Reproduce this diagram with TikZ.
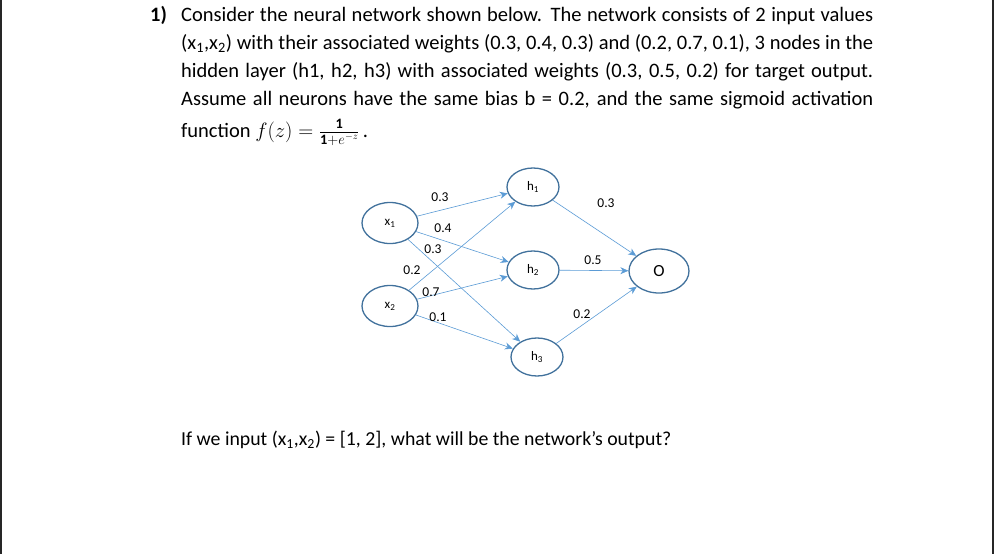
\documentclass[tikz,border=0pt]{standalone}
\usepackage{fontspec}
\setmainfont{Carlito}
\usetikzlibrary{shapes.geometric,arrows.meta}
\definecolor{edge}{HTML}{5B9BD5}
\definecolor{rim}{HTML}{41719C}
\begin{document}
\begin{tikzpicture}[x=1pt,y=-1pt,
  neuron/.style={draw=rim,line width=1.3pt,ellipse,inner sep=0pt},
  conn/.style={draw=edge,line width=0.6pt,-{Stealth[length=8pt,width=7pt]}},
  wlab/.style={font=\fontsize{13.5}{15}\selectfont,inner sep=0pt},
  txt/.style={font=\fontsize{20.5}{24}\selectfont,anchor=base west,inner sep=0pt}]
\useasboundingbox (0,0) rectangle (994,554);
\draw[line width=1.5pt,black!85] (1,0) -- (1,554);
\draw[line width=1.5pt,black!85] (993,0) -- (993,554);
\node[txt] (n1) at (150,21) {\textbf{1)}};
\node[txt] (l1) at (181,21) {\makebox[692pt][s]{Consider the neural network shown below. The network consists of 2 input values}};
\node[txt] (l2) at (181,49) {\makebox[692pt][s]{(x\textsubscript{1},x\textsubscript{2}) with their associated weights (0.3, 0.4, 0.3) and (0.2, 0.7, 0.1), 3 nodes in the}};
\node[txt] (l3) at (181,77) {\makebox[692pt][s]{hidden layer (h1, h2, h3) with associated weights (0.3, 0.5, 0.2) for target output.}};
\node[txt] (l4) at (181,105) {\makebox[692pt][s]{Assume all neurons have the same bias b = 0.2, and the same sigmoid activation}};
\node[txt] (l5) at (181,137) {function $f(z)=\frac{\mathbf{1}}{\mathbf{1+}e^{-z}}$\,.};
\node[neuron,minimum width=56pt,minimum height=41pt] (x1) at (390,223) {\fontsize{13}{14}\selectfont x\textsubscript{1}};
\node[neuron,minimum width=56pt,minimum height=41pt] (x2) at (390,306) {\fontsize{13}{14}\selectfont x\textsubscript{2}};
\node[neuron,minimum width=52pt,minimum height=38pt] (h1) at (533,187) {\fontsize{13}{14}\selectfont h\textsubscript{1}};
\node[neuron,minimum width=52pt,minimum height=38pt] (h2) at (533,270) {\fontsize{13}{14}\selectfont h\textsubscript{2}};
\node[neuron,minimum width=52pt,minimum height=38pt] (h3) at (537,357) {\fontsize{13}{14}\selectfont h\textsubscript{3}};
\node[neuron,minimum width=60pt,minimum height=44pt] (o) at (659,271) {\fontsize{17}{18}\selectfont O};
\draw[conn] (x1) -- (h1);
\draw[conn] (x1) -- (h2);
\draw[conn] (x1) -- (h3);
\draw[conn] (x2) -- (h1);
\draw[conn] (x2) -- (h2);
\draw[conn] (x2) -- (h3);
\draw[conn] (h1) -- (o);
\draw[conn] (h2) -- (o);
\draw[conn] (h3) -- (o);
\node[wlab] (w1) at (440,197) {0.3};
\node[wlab] (w2) at (443,228) {0.4};
\node[wlab] (w3) at (433,249) {0.3};
\node[wlab] (w4) at (412,270) {0.2};
\node[wlab] (w5) at (431,292) {0.7};
\node[wlab] (w6) at (438,317) {0.1};
\node[wlab] (w7) at (606,203) {0.3};
\node[wlab] (w8) at (593,260) {0.5};
\node[wlab] (w9) at (582,314) {0.2};
\node[txt,font=\fontsize{19.8}{24}\selectfont] (q) at (181,445) {If we input (x\textsubscript{1},x\textsubscript{2}) = [1, 2], what will be the network’s output?};
\end{tikzpicture}
\end{document}
